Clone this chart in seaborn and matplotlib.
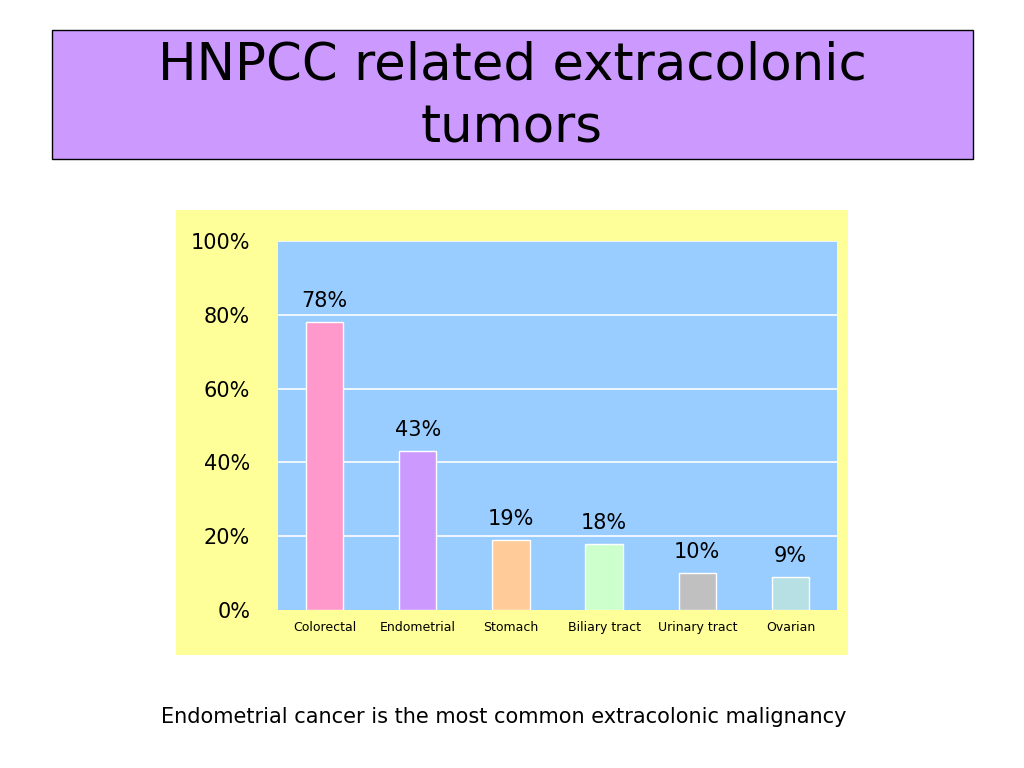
import matplotlib
matplotlib.use("Agg")
import matplotlib.pyplot as plt
import seaborn as sns
import pandas as pd
from matplotlib.patches import Rectangle

categories = ["Colorectal", "Endometrial", "Stomach", "Biliary tract", "Urinary tract", "Ovarian"]
values = [78, 43, 19, 18, 10, 9]
colors = ["#FF99CC", "#CC99FF", "#FFCC99", "#CCFFCC", "#C0C0C0", "#B7E0E4"]
yticks = [0, 20, 40, 60, 80, 100]

sns.set_style("white")
plt.rcParams['font.family'] = ['DejaVu Sans']
plt.rcParams['text.color'] = 'black'
plt.rcParams['xtick.color'] = 'black'
plt.rcParams['ytick.color'] = 'black'

fig = plt.figure(figsize=(10.24, 7.68), dpi=100)
W, H = 1024, 768
def fx(x): return x / W
def fy(y): return 1 - y / H

# title box
fig.patches.append(Rectangle((fx(52), fy(159)), fx(973) - fx(52), fy(30) - fy(159),
                             transform=fig.transFigure, facecolor="#CC99FF", edgecolor="black", lw=1))
fig.text(0.5, fy(97), "HNPCC related extracolonic\ntumors", ha="center", va="center",
         fontsize=37, linespacing=1.32, color="black")

# yellow panel as background axes
bg = fig.add_axes([fx(176), fy(655), fx(848) - fx(176), fy(210) - fy(655)], zorder=0)
bg.set_facecolor("#FFFF99")
bg.set_xticks([]); bg.set_yticks([])
for s in bg.spines.values():
    s.set_visible(False)

ax = fig.add_axes([fx(278), fy(610), fx(837) - fx(278), fy(241) - fy(610)], zorder=1)
ax.set_facecolor("#99CCFF")
df = pd.DataFrame({"cat": categories, "val": values})
sns.barplot(data=df, x="cat", y="val", hue="cat", palette=colors, legend=False,
            width=0.4, ax=ax, saturation=1, zorder=3)
ax.set_ylim(0, 100)
ax.set_yticks(yticks)
ax.set_yticklabels([f"{t}%" for t in yticks], fontsize=15)
ax.tick_params(axis='y', length=0, pad=20)
ax.tick_params(axis='x', length=0, pad=8, labelsize=9)
for t in yticks[1:]:
    ax.axhline(t, color="white", lw=1.2, zorder=1)
for s in ax.spines.values():
    s.set_visible(False)
ax.set_xlabel("")
ax.set_ylabel("")
for i, v in enumerate(values):
    ax.text(i, v + 3, f"{v}%", ha="center", va="bottom", fontsize=15)

fig.text(fx(504), fy(717), "Endometrial cancer is the most common extracolonic malignancy",
         ha="center", va="center", fontsize=15)

fig.savefig("out.png", dpi=100, facecolor="white")
